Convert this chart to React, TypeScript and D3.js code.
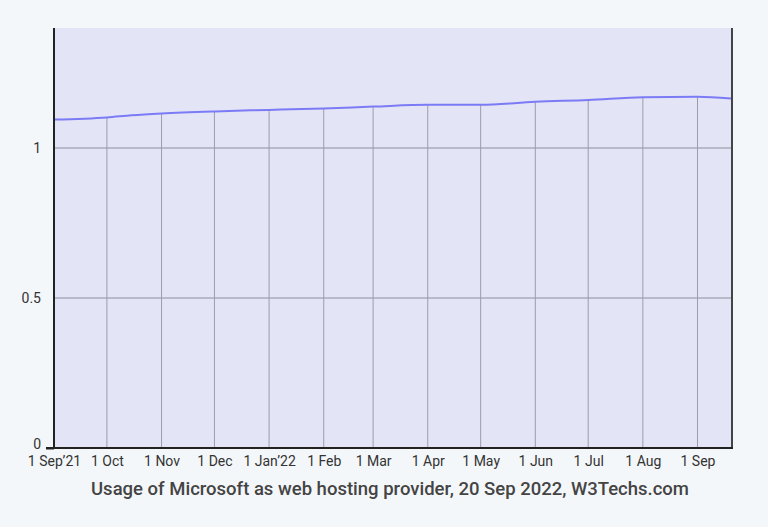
import { useEffect, useRef } from "react";
import * as d3 from "d3";

// usage share (%)
const dates = [
  "2021-09-01", "2021-10-01", "2021-10-15", "2021-11-01", "2021-12-01", "2022-01-01",
  "2022-02-01", "2022-03-01", "2022-04-01", "2022-05-01", "2022-06-01", "2022-07-01",
  "2022-08-01", "2022-09-01", "2022-09-20",
];
const values = [
  1.095, 1.102, 1.109, 1.115, 1.122, 1.127,
  1.132, 1.138, 1.144, 1.144, 1.154, 1.16,
  1.169, 1.171, 1.165,
];
const tickDates = [
  "2021-09-01", "2021-10-01", "2021-11-01", "2021-12-01", "2022-01-01", "2022-02-01",
  "2022-03-01", "2022-04-01", "2022-05-01", "2022-06-01", "2022-07-01", "2022-08-01", "2022-09-01",
];
const tickLabels = [
  "1 Sep\u201921", "1 Oct", "1 Nov", "1 Dec", "1 Jan\u201922", "1 Feb",
  "1 Mar", "1 Apr", "1 May", "1 Jun", "1 Jul", "1 Aug", "1 Sep",
];
const yTicks = [0, 0.5, 1];
const title = "Usage of Microsoft as web hosting provider, 20 Sep 2022, W3Techs.com";

const W = 768;
const H = 527;

const App = () => {
  const ref = useRef<SVGSVGElement | null>(null);

  useEffect(() => {
    document.body.style.margin = "0";
    drawChart();
  }, []);

  const drawChart = () => {
    const margin = { top: 28, right: 37, bottom: 79, left: 54 };
    const svg = d3.select(ref.current);
    svg.selectAll("*").remove();

    const parse = d3.utcParse("%Y-%m-%d");
    const data = dates.map((d, i) => ({ date: parse(d)!, value: values[i] }));

    const xScale = d3
      .scaleUtc()
      .domain([parse("2021-09-01")!, parse("2022-09-20")!])
      .range([margin.left, W - margin.right]);

    const yScale = d3
      .scaleLinear()
      .domain([0, 1.4])
      .range([H - margin.bottom, margin.top]);

    const x0 = xScale.range()[0];
    const x1 = xScale.range()[1];
    const y0 = yScale(0);

    svg.append("rect").attr("width", W).attr("height", H).attr("fill", "#f4f7fa");

    // plot background
    svg
      .append("rect")
      .attr("x", x0)
      .attr("y", yScale(1.4))
      .attr("width", x1 - x0)
      .attr("height", y0 - yScale(1.4))
      .attr("fill", "#e4e4f7");

    // horizontal grid
    svg
      .append("g")
      .selectAll("line")
      .data(yTicks.filter((d) => d > 0))
      .join("line")
      .attr("x1", x0)
      .attr("x2", x1)
      .attr("y1", (d) => yScale(d))
      .attr("y2", (d) => yScale(d))
      .attr("stroke", "#8e8e9c")
      .attr("stroke-width", 1);

    // vertical grid, only under the line
    const byDate = new Map(dates.map((d, i) => [d, values[i]]));
    svg
      .append("g")
      .selectAll("line")
      .data(tickDates.slice(1))
      .join("line")
      .attr("x1", (d) => xScale(parse(d)!))
      .attr("x2", (d) => xScale(parse(d)!))
      .attr("y1", y0)
      .attr("y2", (d) => yScale(byDate.get(d) ?? 0))
      .attr("stroke", "#9c9cac")
      .attr("stroke-width", 1);

    const line = d3
      .line<{ date: Date; value: number }>()
      .x((d) => xScale(d.date))
      .y((d) => yScale(d.value))
      .curve(d3.curveMonotoneX);

    svg
      .append("path")
      .datum(data)
      .attr("d", line)
      .attr("fill", "none")
      .attr("stroke", "#7b7bf6")
      .attr("stroke-width", 2);

    // right border
    svg
      .append("line")
      .attr("x1", x1 + 1)
      .attr("x2", x1 + 1)
      .attr("y1", yScale(1.4))
      .attr("y2", y0)
      .attr("stroke", "#444")
      .attr("stroke-width", 2);

    // Y axis
    svg
      .append("g")
      .attr("transform", `translate(${x0},0)`)
      .call(d3.axisLeft(yScale).tickValues(yTicks).tickSize(8).tickFormat((d) => String(d)))
      .call((g) => g.select(".domain").attr("stroke", "#222").attr("stroke-width", 2).attr("d", `M0,${yScale(1.4)}V${y0}`))
      .call((g) => g.selectAll(".tick line").attr("stroke", "#222").attr("stroke-width", 2).attr("x1", 0).attr("x2", -8).attr("opacity", (d) => (d === 0 ? 1 : 0)))
      .call((g) => g.selectAll(".tick text").attr("x", -13).attr("dy", (d) => (d === 0 ? "0.05em" : "0.35em")).attr("fill", "#333"))
      .style("font-family", "Roboto, sans-serif")
      .style("font-size", "14px");

    // X axis
    svg
      .append("g")
      .attr("transform", `translate(0,${y0})`)
      .call(
        d3
          .axisBottom(xScale)
          .tickValues(tickDates.map((d) => parse(d)!))
          .tickSize(0)
          .tickFormat((_, i) => tickLabels[i])
      )
      .call((g) => g.select(".domain").attr("stroke", "#222").attr("stroke-width", 2).attr("d", `M${x0 - 8},0H${x1 + 2}`))
      .call((g) => g.selectAll(".tick text").attr("y", 8).attr("fill", "#333"))
      .style("font-family", "Roboto, sans-serif")
      .style("font-size", "14px");

    svg
      .append("text")
      .attr("x", 390)
      .attr("y", 495)
      .attr("text-anchor", "middle")
      .attr("fill", "#444")
      .style("font-family", "Roboto, sans-serif")
      .style("font-size", "18.5px")
      .style("font-weight", 500)
      .text(title);
  };

  return <svg ref={ref} width={W} height={H} style={{ display: "block" }} />;
};

export default App;
